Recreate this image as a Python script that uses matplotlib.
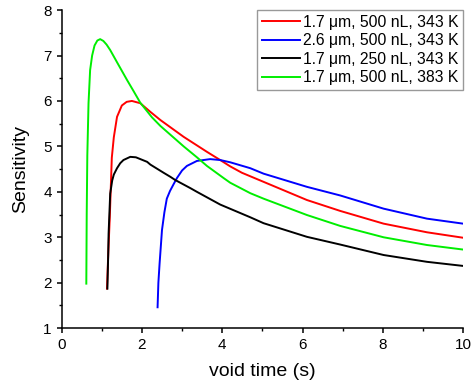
import matplotlib
matplotlib.use("Agg")
import matplotlib.pyplot as plt
from matplotlib.ticker import MultipleLocator

plt.rcParams['font.family'] = ['Liberation Sans', 'DejaVu Sans']

# curves (void time in s, sensitivity)
red_x = [1.13, 1.16, 1.20, 1.25, 1.30, 1.38, 1.50, 1.62, 1.75, 1.96, 2.21, 2.46,
         3.04, 3.62, 3.95, 4.20, 4.49, 5.03, 6.11, 6.94, 8.02, 9.10, 10.0]
red_y = [1.87, 2.60, 3.45, 4.75, 5.20, 5.65, 5.90, 5.98, 6.00, 5.95, 5.76, 5.58,
         5.21, 4.88, 4.70, 4.56, 4.42, 4.22, 3.82, 3.58, 3.30, 3.11, 2.99]

blue_x = [2.39, 2.41, 2.44, 2.50, 2.56, 2.62, 2.70, 2.79, 2.87, 3.00, 3.12, 3.37,
          3.70, 3.95, 4.20, 4.70, 5.03, 6.11, 6.94, 8.02, 9.10, 10.0]
blue_y = [1.46, 2.00, 2.42, 3.16, 3.55, 3.85, 4.02, 4.17, 4.30, 4.47, 4.57, 4.68,
          4.72, 4.70, 4.65, 4.52, 4.40, 4.11, 3.92, 3.63, 3.41, 3.30]

black_x = [1.14, 1.16, 1.17, 1.21, 1.26, 1.30, 1.38, 1.46, 1.54, 1.71, 1.85, 2.13,
           2.21, 2.54, 2.71, 2.83, 3.21, 3.37, 3.95, 4.70, 5.03, 6.11, 6.94, 8.02,
           9.10, 10.0]
black_y = [1.87, 2.60, 3.08, 3.96, 4.25, 4.38, 4.52, 4.63, 4.70, 4.77, 4.76, 4.66,
           4.60, 4.42, 4.33, 4.26, 4.08, 4.00, 3.72, 3.44, 3.31, 3.01, 2.84, 2.61,
           2.46, 2.37]

green_x = [0.615, 0.625, 0.64, 0.67, 0.71, 0.76, 0.82, 0.89, 0.96, 1.04, 1.12, 1.21,
           1.40, 1.63, 1.79, 1.96, 2.25, 2.46, 3.04, 3.37, 3.62, 4.04, 4.20, 4.70,
           5.03, 6.11, 6.94, 8.02, 9.10, 10.0]
green_y = [1.98, 3.50, 4.80, 5.95, 6.68, 7.00, 7.22, 7.33, 7.36, 7.32, 7.24, 7.12,
           6.82, 6.46, 6.22, 5.96, 5.64, 5.45, 5.00, 4.76, 4.57, 4.30, 4.20, 3.97,
           3.85, 3.49, 3.25, 3.00, 2.83, 2.73]

labels = ["1.7 μm, 500 nL, 343 K", "2.6 μm, 500 nL, 343 K",
          "1.7 μm, 250 nL, 343 K", "1.7 μm, 500 nL, 383 K"]

fig = plt.figure(figsize=(4.74, 3.87), dpi=100)
ax = fig.add_axes([0.130, 0.152, 0.847, 0.822])

ax.plot(red_x, red_y, color="#ff0000", lw=1.4, label=labels[0])
ax.plot(blue_x, blue_y, color="#0000ff", lw=1.4, label=labels[1])
ax.plot(black_x, black_y, color="#000000", lw=1.4, label=labels[2])
ax.plot(green_x, green_y, color="#00ee00", lw=1.4, label=labels[3])

ax.set_xlim(0, 10)
ax.set_ylim(1, 8)
ax.xaxis.set_major_locator(MultipleLocator(2))
ax.xaxis.set_minor_locator(MultipleLocator(1))
ax.yaxis.set_major_locator(MultipleLocator(1))
ax.yaxis.set_minor_locator(MultipleLocator(0.5))

for s in ["top", "right"]:
    ax.spines[s].set_visible(False)
for s in ["left", "bottom"]:
    ax.spines[s].set_linewidth(1.1)
ax.tick_params(which="major", direction="out", length=3.6, width=1.1, labelsize=11)
ax.tick_params(which="minor", direction="out", length=2.4, width=1.0)

ax.set_xlabel("void time (s)", fontsize=14, labelpad=8)
ax.set_ylabel("Sensitivity", fontsize=14, labelpad=10)

leg = ax.legend(loc="upper right", fontsize=11.3, frameon=True, fancybox=False,
                handlelength=2.4, handletextpad=0.2, labelspacing=0.22,
                borderpad=0.3, borderaxespad=0.0)
leg.get_frame().set_edgecolor("#808080")
leg.get_frame().set_linewidth(1.0)

fig.savefig("out.png", dpi=100)
